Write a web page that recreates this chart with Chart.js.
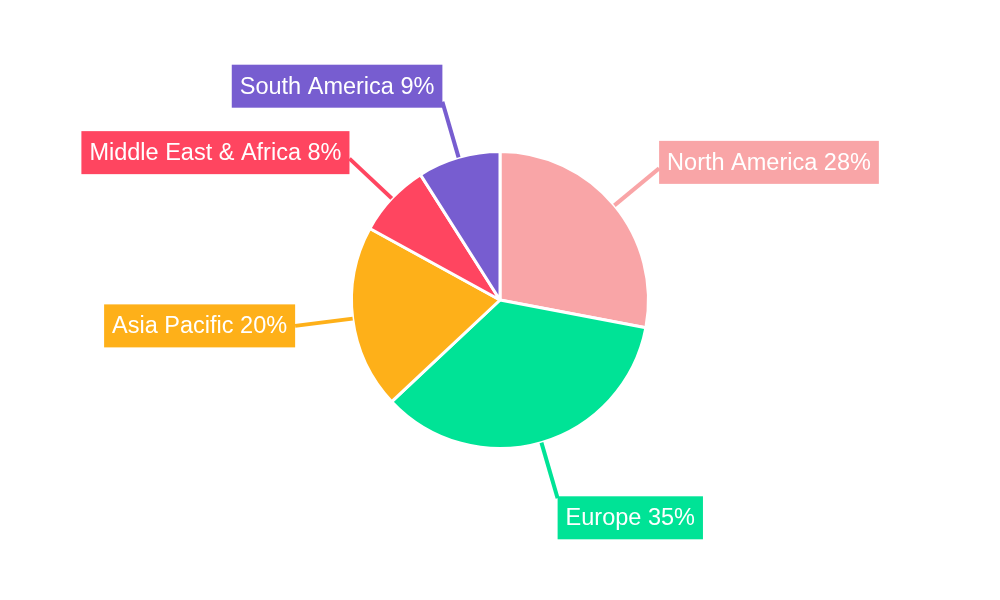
<!DOCTYPE html>
<html>
<head>
<meta charset="utf-8">
<script src="https://cdn.jsdelivr.net/npm/chart.js@4/dist/chart.umd.min.js"></script>
<style>
  html, body { margin: 0; padding: 0; background: #fff; }
  #wrap { width: 1000px; height: 600px; }
</style>
</head>
<body>
<div id="wrap"><canvas id="chart"></canvas></div>
<script>
const regions = ['North America', 'Europe', 'Asia Pacific', 'Middle East & Africa', 'South America'];
const shares = [28, 35, 20, 8, 9];
const colors = ['#f9a5a7', '#00e396', '#feb019', '#ff4560', '#775dd0'];

// draws the boxed labels with leader lines outside the slices
const calloutPlugin = {
    id: 'callouts',
    afterDatasetsDraw(chart) {
        const ctx = chart.ctx;
        const arcs = chart.getDatasetMeta(0).data;
        ctx.save();
        ctx.font = '23.5px "Liberation Sans", Arial, sans-serif';
        ctx.textBaseline = 'middle';
        arcs.forEach((arc, i) => {
            const mid = (arc.startAngle + arc.endAngle) / 2;
            const dx = Math.cos(mid), dy = Math.sin(mid);
            const r = arc.outerRadius;
            const x0 = arc.x + dx * r, y0 = arc.y + dy * r;
            const x1 = arc.x + dx * (r + 58), y1 = arc.y + dy * (r + 58);
            ctx.strokeStyle = colors[i];
            ctx.lineWidth = 4;
            ctx.beginPath();
            ctx.moveTo(x0, y0);
            ctx.lineTo(x1, y1);
            ctx.stroke();

            const text = regions[i] + ' ' + shares[i] + '%';
            const w = ctx.measureText(text).width + 16;
            const h = 43;
            const bx = dx >= 0 ? x1 : x1 - w;
            let by = y1 - h / 2 - (dy < 0 ? 6 : 0);
            if (Math.abs(dy) > Math.abs(dx) * 2) by = dy > 0 ? y1 - 2 : y1 - h + 6;
            ctx.fillStyle = colors[i];
            ctx.fillRect(bx, by, w, h);
            ctx.fillStyle = '#fff';
            ctx.fillText(text, bx + 8, by + h / 2 + 1);
        });
        ctx.restore();
    }
};

new Chart(document.getElementById('chart'), {
    type: 'pie',
    data: {
        labels: regions,
        datasets: [{
            data: shares,
            backgroundColor: colors,
            borderColor: '#fff',
            borderWidth: 3
        }]
    },
    options: {
        responsive: true,
        maintainAspectRatio: false,
        animation: false,
        layout: { padding: { top: 150, bottom: 150 } },
        plugins: {
            legend: { display: false },
            tooltip: { enabled: false }
        }
    },
    plugins: [calloutPlugin]
});
</script>
</body>
</html>
